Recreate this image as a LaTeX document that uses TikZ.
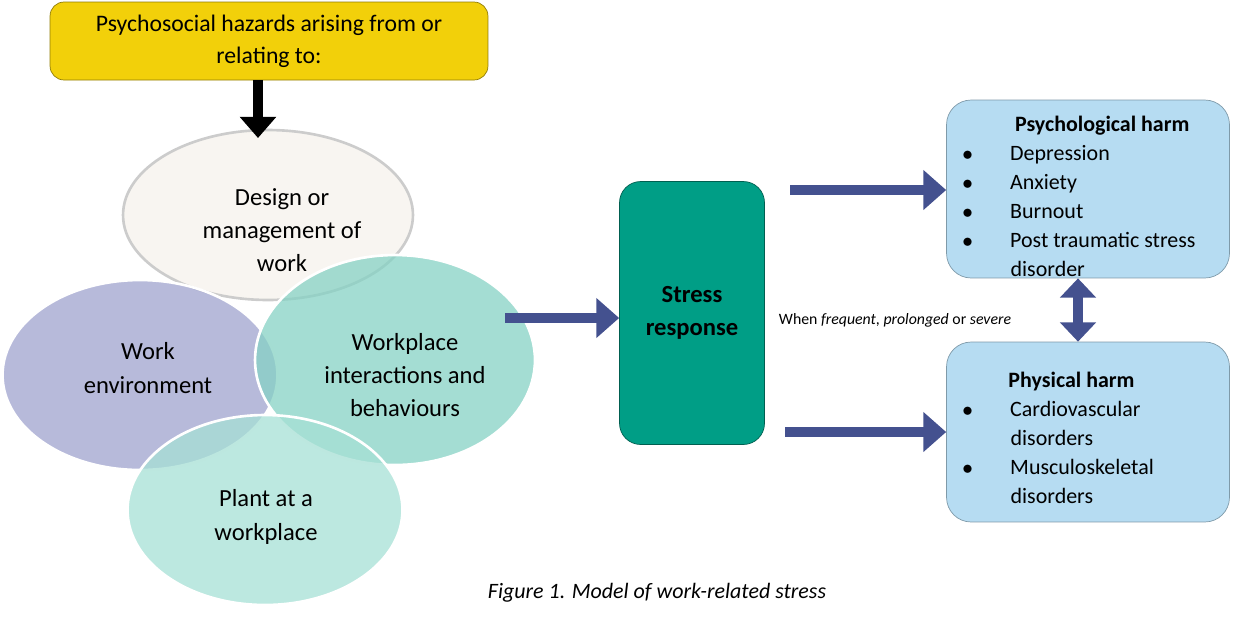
\documentclass[tikz,border=0pt]{standalone}
\usepackage{fontspec}
\setmainfont{Carlito}
\usetikzlibrary{arrows.meta,positioning,shapes.geometric}
\definecolor{hazard}{HTML}{F2D00A}
\definecolor{stress}{HTML}{009E86}
\definecolor{harm}{HTML}{B6DCF2}
\definecolor{flow}{HTML}{5565B3}
\definecolor{design}{HTML}{F6F2EC}
\definecolor{environ}{HTML}{9FA3CE}
\definecolor{interact}{HTML}{86D2C4}
\definecolor{plant}{HTML}{A6E0D5}

\begin{document}
\begin{tikzpicture}[x=0.02cm,y=-0.02cm,
	circ/.style={ellipse,draw=white,line width=1.5pt,fill opacity=0.75,text opacity=1,align=center},
	harmbox/.style={draw=harm!70!black,fill=harm,rounded corners=14pt,minimum width=5.66cm},
	bigarrow/.style={draw=flow!80!black,fill=flow,line width=6pt,-{Triangle[length=13pt,width=22pt]}},
	every node/.style={inner sep=0pt}]
\useasboundingbox (0,0) rectangle (1240,620);

% Hazards
\node[draw=hazard!60!black,fill=hazard,rounded corners=8pt,minimum width=8.76cm,minimum height=1.56cm,
	align=center,font=\fontsize{13.5}{18}\selectfont] (hazard) at (269,41)
	{Psychosocial hazards arising from or\\relating to:};
\coordinate (hazardin) at (258,138);

% Overlapping areas
\node[circ,fill=design,draw=gray!40,minimum width=5.8cm,minimum height=3.4cm] (design) at (268,215) {};
\node[circ,fill=environ,minimum width=5.5cm,minimum height=3.8cm] (environ) at (140,375) {};
\node[circ,fill=interact,minimum width=5.6cm,minimum height=4.2cm] (interact) at (395,360) {};
\node[circ,fill=plant,minimum width=5.5cm,minimum height=3.8cm] (plant) at (265,510) {};
\node[align=center,font=\fontsize{14}{19}\selectfont] at (282,230) {Design or\\management of\\work};
\node[align=center,font=\fontsize{14}{19}\selectfont] at (148,368) {Work\\environment};
\node[align=center,font=\fontsize{14}{19}\selectfont] at (405,375) {Workplace\\interactions and\\behaviours};
\node[align=center,font=\fontsize{14}{19}\selectfont] at (266,517) {Plant at a\\workplace};

\draw[black,line width=6pt,-{Triangle[length=12pt,width=20pt]}] (hazard.south -| hazardin) -- (hazardin);

% Stress response
\node[draw=stress!60!black,fill=stress,rounded corners=12pt,minimum width=2.9cm,minimum height=5.26cm,
	align=center,font=\fontsize{14}{19}\selectfont\bfseries] (stress) at (692,313) {Stress\\response};
\coordinate (circout) at (505,318);
\draw[bigarrow] (circout) -- (stress.west |- circout);

% Harms
\node[harmbox,minimum height=3.56cm] (psych) at (1088,189) {};
\node[harmbox,minimum height=3.6cm] (phys) at (1088,432) {};
\node[align=left,font=\fontsize{12.5}{16.5}\selectfont,anchor=north west] at (962,116)
	{\hspace*{2.4em}\textbf{Psychological harm}\\
	$\bullet$\hspace{1.7em}Depression\\
	$\bullet$\hspace{1.7em}Anxiety\\
	$\bullet$\hspace{1.7em}Burnout\\
	$\bullet$\hspace{1.7em}Post traumatic stress\\
	\hspace*{2.2em}disorder};
\node[align=left,font=\fontsize{12.5}{16.5}\selectfont,anchor=north west] at (962,372)
	{\hspace*{2.1em}\textbf{Physical harm}\\
	$\bullet$\hspace{1.7em}Cardiovascular\\
	\hspace*{2.2em}disorders\\
	$\bullet$\hspace{1.7em}Musculoskeletal\\
	\hspace*{2.2em}disorders};

\coordinate (up) at (790,190);
\coordinate (down) at (785,432);
\coordinate (link) at (1078,300);
\draw[bigarrow] (up) -- (psych.west |- up);
\draw[bigarrow] (down) -- (phys.west |- down);
\draw[draw=flow!80!black,line width=6pt,{Triangle[length=11pt,width=20pt]}-{Triangle[length=11pt,width=20pt]}]
	(psych.south -| link) -- (phys.north -| link);

\node[font=\fontsize{9}{11}\selectfont] (when) at (895,320) {When \textit{frequent}, \textit{prolonged} or \textit{severe}};
\node[font=\fontsize{12.5}{15}\selectfont\itshape] (caption) at (657,593) {Figure 1. Model of work-related stress};
\end{tikzpicture}
\end{document}
